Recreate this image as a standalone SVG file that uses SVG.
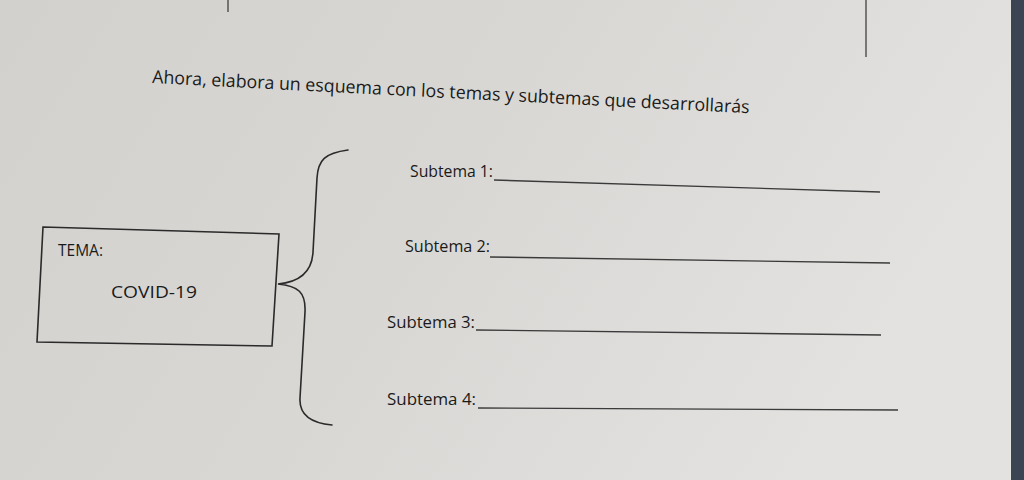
<svg xmlns="http://www.w3.org/2000/svg" width="1024" height="480" viewBox="0 0 1024 480">
<defs>
<linearGradient id="paper" x1="0" y1="0" x2="1" y2="0.3">
<stop offset="0" stop-color="#d3d1ce"/>
<stop offset="0.5" stop-color="#d9d7d4"/>
<stop offset="1" stop-color="#e3e2e0"/>
</linearGradient>
<style>
.ink{fill:none;stroke:#2a2a2a;stroke-width:1.6;stroke-linecap:round}
.rule{fill:none;stroke:#3a3a3a;stroke-width:1.4}
.t{font-family:"Open Sans","Liberation Sans",sans-serif;fill:#1a1a1a}
</style>
</defs>
<rect x="0" y="0" width="1024" height="480" fill="url(#paper)"/>
<rect x="1011" y="0" width="13" height="480" fill="#3a4452"/>
<line x1="228" y1="0" x2="228" y2="12" stroke="#555" stroke-width="1.5"/>
<line x1="866" y1="0" x2="866" y2="57" stroke="#555" stroke-width="1.5"/>

<g id="title">
<text class="t" x="152" y="83" font-size="18" textLength="598" lengthAdjust="spacingAndGlyphs" transform="rotate(2.9 152 83)">Ahora, elabora un esquema con los temas y subtemas que desarrollarás</text>
</g>

<g id="tema">
<polygon class="ink" points="43,227 279,234 272,346 37,342"/>
<text class="t" x="58" y="256" font-size="17" textLength="45" lengthAdjust="spacingAndGlyphs">TEMA:</text>
<text class="t" x="111" y="298" font-size="17" textLength="86" lengthAdjust="spacingAndGlyphs">COVID-19</text>
</g>

<g id="connectors">
<path class="ink" d="M348,150 C325,153 318,160 317,178 L313,252 C312,272 300,282 278,284 C298,286 306,292 305,312 L300,398 C299,414 310,423 332,425"/>
</g>

<g id="subtema1">
<text class="t" x="410" y="177" font-size="16" textLength="83" lengthAdjust="spacingAndGlyphs">Subtema 1:</text>
<line class="rule" x1="494" y1="180" x2="880" y2="192"/>
</g>
<g id="subtema2">
<text class="t" x="405" y="252" font-size="16" textLength="85" lengthAdjust="spacingAndGlyphs">Subtema 2:</text>
<line class="rule" x1="490" y1="257" x2="890" y2="263"/>
</g>
<g id="subtema3">
<text class="t" x="387" y="328" font-size="16" textLength="88" lengthAdjust="spacingAndGlyphs">Subtema 3:</text>
<line class="rule" x1="476" y1="330" x2="881" y2="335"/>
</g>
<g id="subtema4">
<text class="t" x="387" y="405" font-size="16" textLength="89" lengthAdjust="spacingAndGlyphs">Subtema 4:</text>
<line class="rule" x1="478" y1="408" x2="898" y2="410"/>
</g>
</svg>
